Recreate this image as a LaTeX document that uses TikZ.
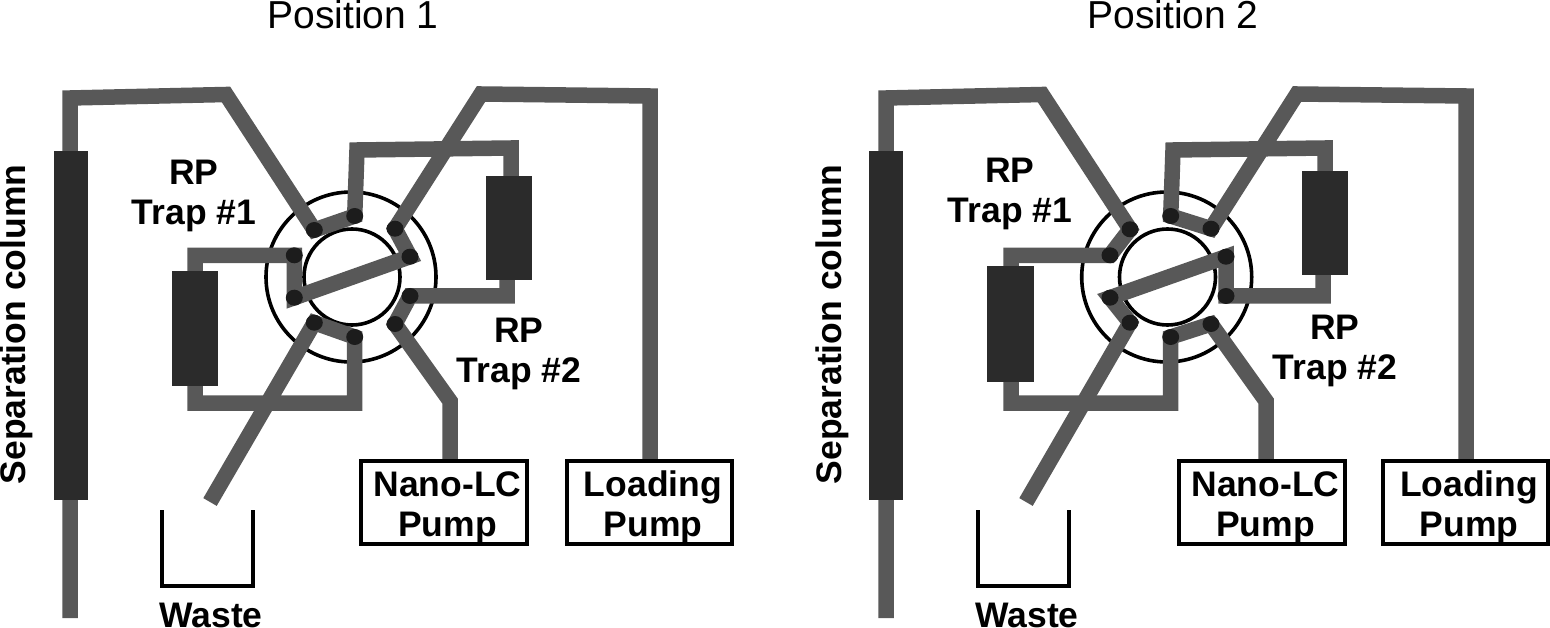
\documentclass[tikz,border=0pt]{standalone}
\usepackage{fontspec}
\setmainfont{Liberation Sans}
\usetikzlibrary{shapes.geometric}
\definecolor{tubec}{HTML}{585858}
\definecolor{trapc}{HTML}{2B2B2B}
\definecolor{dotc}{HTML}{1C1C1C}
\tikzset{
  tube/.style={draw=tubec,line width=15.5pt,line join=miter,miter limit=10},
  trapbox/.style={fill=trapc,draw=none,inner sep=0pt,rectangle,minimum width=46.5pt},
  columnbox/.style={fill=trapc,draw=none,inner sep=0pt,rectangle,minimum width=34pt,minimum height=349pt},
  port/.style={ellipse,fill=dotc,draw=none,inner sep=0pt,minimum width=17pt,minimum height=16pt},
  ring/.style={circle,draw=black,line width=3.6pt,inner sep=0pt,fill=none},
  pumpbox/.style={draw=black,line width=3.6pt,inner sep=0pt,rectangle,minimum height=83pt,align=center,font=\lab},
  lab/.style={inner sep=0pt,align=center,font=\lab},
  title/.style={inner sep=0pt,font=\fontsize{39}{44}\selectfont},
  wasteline/.style={draw=black,line width=3.6pt}
}
\newcommand{\lab}{\fontsize{35.5}{40}\selectfont\bfseries}
\newcommand{\pumpup}{\rule{0pt}{35pt}\hspace*{7pt}}
\begin{document}
\begin{tikzpicture}[x=1pt,y=-1pt]
\useasboundingbox (0,0) rectangle (1550,628);
% ---------- Position 1
\node[title] (t1) at (353,15) {Position 1};
\node[ring,minimum size=170pt] (o1) at (351,277) {};
\node[ring,minimum size=96pt] (i1) at (352,277) {};
\foreach \n/\x/\y in {a1/314.3/230,b1/354.7/216,c1/395/228.7,d1/410/256.7,e1/410/296,f1/395/324,g1/354.7/337,h1/314.3/322.7,i1/294.3/297.7,j1/294.3/255.3}
  \coordinate (\n) at (\x,\y);
\draw[tube] (70,618) -- (70,98) -- (226,94.5) -- (a1) -- (b1) -- (357,150) -- (511,148) -- (511,176);
\draw[tube] (650,460) -- (650,96) -- (481,94) -- (c1) -- (d1) -- (i1) -- (j1) -- (195,255.3) -- (195,272);
\draw[tube] (195,386) -- (195,403) -- (354.7,403) -- (g1) -- (h1) -- (210,502);
\draw[tube] (507,280) -- (507,296) -- (e1) -- (f1) -- (450,401) -- (450,461);
\node[columnbox] (col1) at (71,325.5) {};
\node[trapbox,minimum height=115pt] (ta1) at (195,328.5) {};
\node[trapbox,minimum height=104pt] (tb1) at (509,227.7) {};
\foreach \n in {a1,b1,c1,d1,e1,f1,g1,h1,i1,j1}
  \node[port] (p\n) at (\n) {};
\node[lab,rotate=90] (sc1) at (16,324.5) {Separation column};
\node[lab] (r11) at (194,196) {RP\\Trap \#1};
\node[lab] (r12) at (519,354) {RP\\Trap \#2};
\node[pumpbox,minimum width=166pt] (n1) at (444,502.5) {\pumpup Nano-LC\\\hspace*{7pt}Pump};
\node[pumpbox,minimum width=165pt] (l1) at (649.5,502.5) {\pumpup Loading\\\hspace*{7pt}Pump};
\draw[wasteline] (162,510) -- (162,586) -- (253,586) -- (253,510);
\node[lab] (w1) at (211,615) {Waste};
% ---------- Position 2
\node[title] (t2) at (1173,15) {Position 2};
\node[ring,minimum size=170pt] (o2) at (1166.7,277) {};
\node[ring,minimum size=96pt] (i2) at (1167.5,277) {};
\foreach \n/\x/\y in {a2/1130/229.3,b2/1170.7/216,c2/1211/228.7,d2/1226/256.7,e2/1226/296,f2/1211/324,g2/1170.7/337,h2/1130/322.7,i2/1110/297.7,j2/1110/255.3}
  \coordinate (\n) at (\x,\y);
\draw[tube] (886,618) -- (886,98) -- (1042,94.5) -- (a2) -- (j2) -- (1011,255.3) -- (1011,267);
\draw[tube] (1466,460) -- (1466,96) -- (1297,94) -- (c2) -- (b2) -- (1173,150) -- (1325,148) -- (1325,172);
\draw[tube] (1011,381) -- (1011,403) -- (1170.7,403) -- (g2) -- (f2) -- (1266,401) -- (1266,461);
\draw[tube] (1026,502) -- (h2) -- (i2) -- (d2) -- (e2) -- (1323,296) -- (1323,275);
\node[columnbox] (col2) at (885.5,325.5) {};
\node[trapbox,minimum height=115.7pt] (ta2) at (1010.5,323.8) {};
\node[trapbox,minimum height=103.7pt] (tb2) at (1325,223.2) {};
\foreach \n in {a2,b2,c2,d2,e2,f2,g2,h2,i2,j2}
  \node[port] (p\n) at (\n) {};
\node[lab,rotate=90] (sc2) at (832,324.5) {Separation column};
\node[lab] (r21) at (1010,193.5) {RP\\Trap \#1};
\node[lab] (r22) at (1335,350.5) {RP\\Trap \#2};
\node[pumpbox,minimum width=166pt] (n2) at (1262,502.5) {\pumpup Nano-LC\\\hspace*{7pt}Pump};
\node[pumpbox,minimum width=165pt] (l2) at (1465.5,502.5) {\pumpup Loading\\\hspace*{7pt}Pump};
\draw[wasteline] (978,510) -- (978,586) -- (1069,586) -- (1069,510);
\node[lab] (w2) at (1027,615) {Waste};
\end{tikzpicture}
\end{document}
